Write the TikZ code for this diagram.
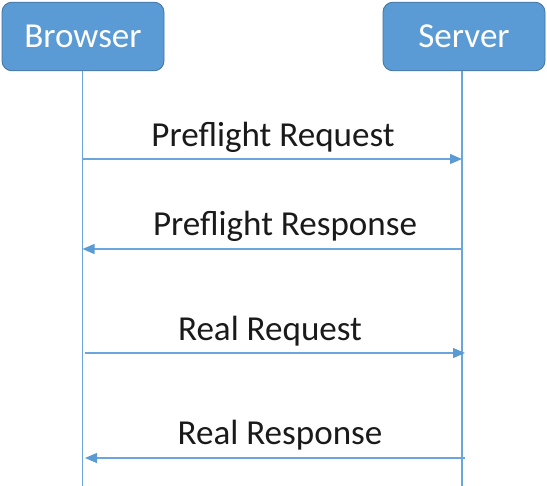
\documentclass[tikz,border=0pt]{standalone}
\usepackage{fontspec}
\setmainfont{Carlito}
\usepackage{xcolor}
\usetikzlibrary{arrows.meta, positioning, calc}
\definecolor{boxblue}{HTML}{5B9BD5}
\definecolor{boxedge}{HTML}{41719C}
\definecolor{linkblue}{HTML}{6AA6DC}
\definecolor{textblack}{HTML}{1A1A1A}
\tikzset{
    hostbox/.style={draw=boxedge, fill=boxblue, rounded corners=7.5pt, line width=0.6pt,
        minimum width=121.5pt, minimum height=51.5pt, inner sep=0pt, text=white, font=\fontsize{26.3}{28}\selectfont, text height=17pt, text depth=0pt},
    lifeline/.style={draw=linkblue, line width=0.9pt},
    msgline/.style={draw=linkblue, line width=0.9pt, -{Triangle[length=9pt,width=7.5pt,color=boxblue]}},
    msglabel/.style={text=textblack, inner sep=0pt, font=\fontsize{26.3}{28}\selectfont}
}

\begin{document}
\begin{tikzpicture}[x=0.75pt, y=-0.75pt]
\useasboundingbox (0, 0) rectangle (547, 486);

% Browser and Server
\node[hostbox] (browser) at (83, 36.5) {Browser};
\node[hostbox] (server) at (464, 36.5) {Server};

% Lifelines
\coordinate (browserEnd) at (82.5, 486);
\coordinate (serverEnd) at (462, 486);
\draw[lifeline] (82.5, 0 |- browser.south) -- (browserEnd);
\draw[lifeline] (462, 0 |- server.south) -- (serverEnd);

% Labels
\node[msglabel] (preflightReq) at (273, 137) {Preflight Request};
\node[msglabel] (preflightResp) at (285, 226) {Preflight Response};
\node[msglabel] (realReq) at (270, 331) {Real Request};
\node[msglabel] (realResp) at (280, 435) {Real Response};

% Messages
\foreach \name/\xa/\xb/\y in {a/82.5/462/159, b/462/82.5/249, c/85/465/353, d/465/85/458} {
    \coordinate (\name Start) at (\xa, \y);
    \coordinate (\name End) at (\xb, \y);
    \draw[msgline] (\name Start) -- (\name End);
}
\end{tikzpicture}
\end{document}
